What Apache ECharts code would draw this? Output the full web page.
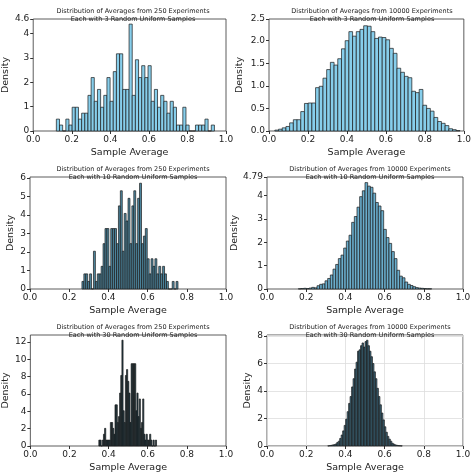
<!DOCTYPE html>
<html>
<head>
<meta charset="utf-8">
<script src="https://cdn.jsdelivr.net/npm/echarts@6/dist/echarts.min.js"></script>
<style>html,body{margin:0;padding:0;background:#fff}#chart{width:474px;height:474px}</style>
</head>
<body>
<div id="chart"></div>
<script>
// histogram bins: start, bin width, density per bin
var tlStart = 0.12, tlWidth = 0.0164;
var tlCounts = [2,1,0,2,1,4,4,2,3,3,6,9,5,7,4,6,9,5,10,13,13,7,7,18,6,12,9,11,9,11,5,7,4,6,5,3,5,4,1,1,4,1,0,0,1,1,1,2,0,1];
var tlN = 250;

var trStart = 0.03, trWidth = 0.019;
var trDensity = [0.02,0.04,0.07,0.1,0.18,0.25,0.25,0.43,0.61,0.62,0.62,0.96,0.99,1.17,1.36,1.52,1.46,1.6,1.82,2.0,2.2,2.1,2.2,2.25,2.33,2.32,2.2,2.05,2.08,2.07,2.02,1.83,1.72,1.39,1.3,1.21,1.18,0.88,0.85,0.92,0.57,0.5,0.44,0.3,0.21,0.17,0.12,0.05,0.03,0.01];

var mlStart = 0.265, mlWidth = 0.0098;
var mlCounts = [1,2,2,1,2,0,5,1,2,2,3,6,8,8,3,8,8,8,6,11,13,5,10,9,12,6,11,13,6,12,14,6,7,8,4,2,4,3,4,2,3,2,3,2,1,0,0,1,0,1];
var mlN = 250;

var mrStart = 0.16, mrWidth = 0.0136;
var mrDensity = [0.01,0.02,0.03,0.02,0.04,0.07,0.05,0.14,0.2,0.22,0.35,0.45,0.6,0.85,1.05,1.3,1.45,1.75,2.05,2.3,2.85,3.1,3.5,3.95,4.2,4.55,4.4,4.35,4.1,3.7,3.55,3.35,2.55,2.2,1.95,1.6,1.3,0.8,0.55,0.48,0.3,0.2,0.15,0.1,0.06,0.04,0.03,0.02,0.01,0.01];

var blStart = 0.35, blWidth = 0.0059;
var blCounts = [1,1,0,1,2,3,1,1,1,1,4,4,3,2,7,7,4,5,9,12,18,6,4,12,13,11,9,4,14,14,14,14,6,9,5,8,3,4,8,2,1,2,1,1,2,1,0,1,0,1];
var blN = 250;

var brStart = 0.31, brWidth = 0.0076;
var brDensity = [0.01,0.03,0.05,0.08,0.1,0.15,0.25,0.35,0.55,0.8,1.1,1.5,1.95,2.5,3.1,3.6,4.3,4.9,5.6,6.1,6.9,7.0,7.3,7.5,7.2,7.6,7.7,7.3,6.9,6.5,6.0,5.4,4.9,4.2,3.6,3.0,2.4,1.9,1.4,1.0,0.7,0.5,0.35,0.2,0.13,0.08,0.05,0.03,0.02,0.01];

var xTicks = [0, 0.2, 0.4, 0.6, 0.8, 1.0];

function toDensity(counts, n, w) {
  return counts.map(function (c) { return c / (n * w); });
}

function bins(start, w, dens) {
  return dens.map(function (d, i) { return [start + i * w, start + (i + 1) * w, d]; });
}

var panels = [
  {exp: 250, s: 3, start: tlStart, w: tlWidth, d: toDensity(tlCounts, tlN, tlWidth), max: 4.6, iv: 1, color: '#87ceeb', l: 30, t: 19},
  {exp: 10000, s: 3, start: trStart, w: trWidth, d: trDensity, max: 2.48, iv: 0.5, color: '#87ceeb', l: 269, t: 19},
  {exp: 250, s: 10, start: mlStart, w: mlWidth, d: toDensity(mlCounts, mlN, mlWidth), max: 6.05, iv: 1, color: '#4f8aa3', l: 30, t: 177},
  {exp: 10000, s: 10, start: mrStart, w: mrWidth, d: mrDensity, max: 4.79, iv: 1, color: '#6aaecd', l: 267, t: 177},
  {exp: 250, s: 30, start: blStart, w: blWidth, d: toDensity(blCounts, blN, blWidth), max: 12.8, iv: 2, color: '#22404c', l: 30, t: 335},
  {exp: 10000, s: 30, start: brStart, w: brWidth, d: brDensity, max: 8.08, iv: 2, color: '#3e6e84', l: 267, t: 335, grid: true}
];

var chart = echarts.init(document.getElementById('chart'));
var option = {title: [], grid: [], xAxis: [], yAxis: [], series: [], animation: false};

panels.forEach(function (p, i) {
  option.title.push({
    text: 'Distribution of Averages from ' + p.exp + ' Experiments\nEach with ' + p.s + ' Random Uniform Samples',
    left: p.l + 98, top: p.t - 17, textAlign: 'center',
    textStyle: {fontSize: 6.5, fontWeight: 'normal', color: '#222', lineHeight: 8, fontFamily: 'DejaVu Sans'}
  });
  option.grid.push({left: p.l, top: p.t, width: 196, height: 112, show: true, borderColor: '#333', borderWidth: 0.8, backgroundColor: 'transparent'});
  option.xAxis.push({
    type: 'value', gridIndex: i, min: 0, max: 1, interval: 0.2,
    name: 'Sample Average', nameLocation: 'middle', nameGap: 17,
    nameTextStyle: {fontSize: 9.5, color: '#222', fontFamily: 'DejaVu Sans'},
    axisLine: {show: false}, axisTick: {show: true, length: 3, lineStyle: {color: '#333'}},
    axisLabel: {fontSize: 9, color: '#222', margin: 4, fontFamily: 'DejaVu Sans', formatter: function (v) { return v.toFixed(1); }},
    splitLine: {show: !!p.grid, lineStyle: {color: '#ddd', width: 0.8}}
  });
  option.yAxis.push({
    type: 'value', gridIndex: i, min: 0, max: p.max, interval: p.iv,
    name: 'Density', nameLocation: 'middle', nameGap: p.iv === 0.5 ? 24 : (p.max > 10 ? 18 : 14),
    nameTextStyle: {fontSize: 9.5, color: '#222', fontFamily: 'DejaVu Sans'},
    axisLine: {show: false}, axisTick: {show: true, length: 3, lineStyle: {color: '#333'}},
    axisLabel: {fontSize: 9, color: '#222', margin: 4, fontFamily: 'DejaVu Sans',
      formatter: function (v) { return p.iv === 0.5 ? v.toFixed(1) : String(v); }},
    splitLine: {show: !!p.grid, lineStyle: {color: '#ddd', width: 0.8}}
  });
  option.series.push({
    type: 'custom', xAxisIndex: i, yAxisIndex: i,
    data: bins(p.start, p.w, p.d),
    renderItem: function (params, api) {
      var a = api.coord([api.value(0), api.value(2)]);
      var b = api.coord([api.value(1), 0]);
      return {type: 'rect', shape: {x: a[0], y: a[1], width: b[0] - a[0], height: b[1] - a[1]},
        style: {fill: p.color, stroke: '#1a1a1a', lineWidth: 0.7}};
    }
  });
});

chart.setOption(option);
</script>
</body>
</html>
